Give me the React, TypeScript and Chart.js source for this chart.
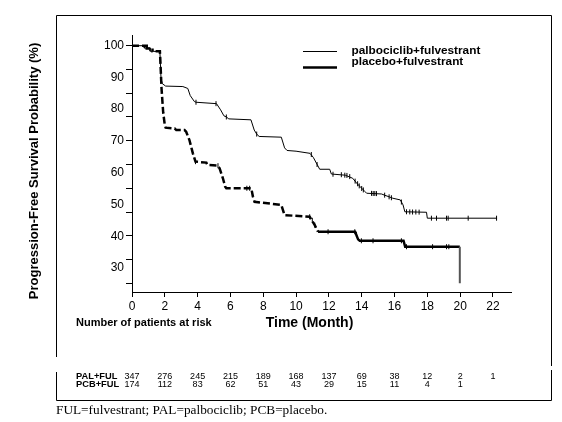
import React, { useEffect, useRef } from 'react';
import { Chart, registerables } from 'chart.js';

Chart.register(...registerables);

// ---- axis ticks ----
const xTickValues = [0, 2, 4, 6, 8, 10, 12, 14, 16, 18, 20, 22];
const yTickValues = [0, 10, 20, 30, 40, 50, 60, 70, 80, 90, 100];
const yLabelValues = [30, 40, 50, 60, 70, 80, 90, 100];

// ---- palbociclib + fulvestrant (KM curve vertices) ----
const palTime = [0, 0.75, 0.75, 1.1, 1.1, 1.7, 1.77, 1.85, 2.05, 3.1, 3.4, 3.55, 3.8, 3.9, 5.15, 5.4, 5.6, 5.75, 5.9, 7.25, 7.45, 7.6, 7.75, 9.1, 9.3, 9.45, 10.0, 10.85, 11.05, 11.3, 11.44, 12.05, 12.15, 13.0, 13.45, 13.7, 13.9, 14.2, 14.3, 15.2, 15.9, 16.35, 16.52, 16.63, 17.95, 18.0, 22.25];
const palSurv = [100, 100, 99, 99, 97.7, 97.5, 86, 84, 83, 82.8, 82.0, 79, 76.5, 76.2, 75.6, 73, 70.5, 70, 69.2, 68.8, 64.5, 62.8, 61.8, 61.5, 57, 55.9, 55.6, 54.7, 53, 49.8, 48, 48, 46, 45.5, 44.2, 42.1, 40.7, 38.6, 37.9, 37.6, 35.8, 35.1, 33.0, 30.1, 29.9, 27.4, 27.4];
const palCensorTime = [3.9, 5.12, 5.75, 7.6, 10.93, 11.28, 12.25, 12.76, 12.97, 13.1, 13.27, 13.6, 13.75, 13.85, 14.0, 14.1, 14.6, 14.7, 14.8, 14.9, 15.4, 15.67, 15.81, 16.42, 16.73, 16.93, 17.1, 17.3, 17.5, 18.25, 18.56, 19.17, 19.27, 20.49, 22.22];
const palCensorSurv = [76.2, 75.6, 70, 62.8, 54.2, 50, 45.9, 45.7, 45.5, 45.4, 44.9, 43, 41.9, 41, 39.9, 39.3, 37.85, 37.8, 37.8, 37.75, 37.1, 36.4, 36.0, 34.2, 30.1, 30.05, 30.0, 30.0, 29.95, 27.4, 27.4, 27.4, 27.4, 27.4, 27.4];

// ---- placebo + fulvestrant (KM curve vertices) ----
const pcbTime = [0, 0.9, 0.9, 1.25, 1.25, 1.7, 1.72, 1.8, 1.9, 2.0, 2.05, 2.6, 2.7, 3.2, 3.3, 3.5, 3.71, 3.87, 4.53, 4.6, 5.2, 5.34, 5.54, 5.68, 5.75, 7.27, 7.37, 7.47, 9.1, 9.3, 10.83, 11.14, 11.34, 13.6, 13.78, 13.88, 16.55, 16.65, 19.98, 19.98];
const pcbSurv = [100, 100, 98.8, 98.8, 97.7, 97.7, 95, 82, 72, 66.5, 65.5, 65.2, 64.5, 64.5, 63.8, 60.3, 54.7, 51.2, 50.8, 49.8, 49.6, 48.4, 44.2, 40.7, 40.0, 40.0, 36.5, 34.3, 33.0, 28.7, 28.0, 24.5, 21.7, 21.7, 18.5, 17.9, 17.9, 15.4, 15.4, 0];
const pcbCensorTime = [3.87, 5.24, 7.0, 7.17, 10.83, 10.99, 11.14, 11.95, 13.58, 13.68, 13.98, 14.69, 16.42, 16.73, 18.32, 19.17, 19.31];
const pcbCensorSurv = [51.2, 49.5, 40, 40, 28.0, 26.5, 24.5, 21.7, 21.7, 20.5, 17.9, 17.9, 17.9, 15.4, 15.4, 15.4, 15.4];

// ---- numbers at risk ----
const riskTimes = [0, 2, 4, 6, 8, 10, 12, 14, 16, 18, 20, 22];
const palAtRisk = [347, 276, 245, 215, 189, 168, 137, 69, 38, 12, 2, 1];
const pcbAtRisk = [174, 112, 83, 62, 51, 43, 29, 15, 11, 4, 1, null];

const seriesLabels = ['palbociclib+fulvestrant', 'placebo+fulvestrant'];
const riskLabels = ['PAL+FUL', 'PCB+FUL'];
const footnote = 'FUL=fulvestrant; PAL=palbociclib; PCB=placebo.';
const yTitle = 'Progression-Free Survival Probability (%)';
const xTitle = 'Time (Month)';
const riskTitle = 'Number of patients at risk';

const SANS = '"Liberation Sans", Arial, Helvetica, sans-serif';
const SERIF = '"Liberation Serif", "Times New Roman", serif';

const toPts = (xs: number[], ys: number[]) => xs.map((x, i) => ({ x, y: ys[i] }));

const decor = {
  id: 'decor',
  afterDraw(chart: any) {
    const ctx: CanvasRenderingContext2D = chart.ctx;
    const xs = chart.scales.x;
    ctx.save();
    ctx.fillStyle = '#000';
    ctx.strokeStyle = '#000';
    ctx.lineWidth = 1;

    // outer frame
    ctx.beginPath();
    ctx.moveTo(56.5, 15.5);
    ctx.lineTo(551.5, 15.5);
    ctx.lineTo(551.5, 366);
    ctx.moveTo(551.5, 370);
    ctx.lineTo(551.5, 400.5);
    ctx.lineTo(56.5, 400.5);
    ctx.lineTo(56.5, 372);
    ctx.moveTo(56.5, 357);
    ctx.lineTo(56.5, 15.5);
    ctx.stroke();

    // y title
    ctx.save();
    ctx.translate(34, 171);
    ctx.rotate(-Math.PI / 2);
    ctx.font = `bold 13px ${SANS}`;
    ctx.textAlign = 'center';
    ctx.textBaseline = 'middle';
    ctx.fillText(yTitle, 0, 0);
    ctx.restore();

    // x title
    ctx.font = `bold 14px ${SANS}`;
    ctx.textAlign = 'center';
    ctx.textBaseline = 'alphabetic';
    ctx.fillText(xTitle, 309.5, 327);

    // legend
    ctx.beginPath();
    ctx.lineWidth = 1;
    ctx.moveTo(303, 51.5);
    ctx.lineTo(337, 51.5);
    ctx.stroke();
    ctx.beginPath();
    ctx.lineWidth = 2.5;
    ctx.moveTo(303, 67.5);
    ctx.lineTo(337, 67.5);
    ctx.stroke();
    ctx.font = `bold 11.8px ${SANS}`;
    ctx.textAlign = 'left';
    ctx.fillText(seriesLabels[0], 351.5, 53.5);
    ctx.fillText(seriesLabels[1], 351.5, 65);

    // at risk table
    ctx.font = `bold 11px ${SANS}`;
    ctx.fillText(riskTitle, 76, 326);
    ctx.font = `bold 9.3px ${SANS}`;
    ctx.fillText(riskLabels[0], 76, 378.5);
    ctx.fillText(riskLabels[1], 76, 386.5);
    ctx.font = `9px ${SANS}`;
    ctx.textAlign = 'center';
    riskTimes.forEach((t, i) => {
      const px = xs.getPixelForValue(t);
      if (palAtRisk[i] != null) ctx.fillText(String(palAtRisk[i]), px, 378.5);
      if (pcbAtRisk[i] != null) ctx.fillText(String(pcbAtRisk[i]), px, 386.5);
    });

    // footnote
    ctx.font = `13.3px ${SERIF}`;
    ctx.textAlign = 'left';
    ctx.fillText(footnote, 56, 413.5);
    ctx.restore();
  },
};

export default function App() {
  const ref = useRef<HTMLCanvasElement>(null);
  useEffect(() => {
    if (!ref.current) return;
    Chart.defaults.font.family = SANS;
    Chart.defaults.color = '#000';
    const chart = new Chart(ref.current, {
      type: 'line',
      data: {
        datasets: [
          {
            label: seriesLabels[0],
            data: toPts(palTime, palSurv),
            borderColor: '#000',
            borderWidth: 1,
            pointRadius: 0,
            tension: 0,
            fill: false,
          },
          {
            label: seriesLabels[1],
            data: toPts(pcbTime, pcbSurv),
            borderColor: '#000',
            borderWidth: 2.5,
            borderDash: [],
            pointRadius: 0,
            tension: 0,
            fill: false,
            segment: {
              borderDash: (c: any) => (c.p0.parsed.x < 11.3 ? [7, 3] : undefined),
              borderColor: (c: any) => (c.p0.parsed.x > 19.9 ? '#555' : undefined),
              borderWidth: (c: any) => (c.p0.parsed.x > 19.9 ? 2 : undefined),
            },
          },
          {
            label: 'censored PAL',
            data: toPts(palCensorTime, palCensorSurv),
            showLine: false,
            pointStyle: 'line',
            pointRotation: 90,
            pointRadius: 2.5,
            pointBorderWidth: 1,
            pointBorderColor: '#000',
            borderColor: '#000',
          },
          {
            label: 'censored PCB',
            data: toPts(pcbCensorTime, pcbCensorSurv),
            showLine: false,
            pointStyle: 'line',
            pointRotation: 90,
            pointRadius: 2.5,
            pointBorderWidth: 1,
            pointBorderColor: '#000',
            borderColor: '#000',
          },
        ],
      },
      options: {
        responsive: false,
        animation: false,
        devicePixelRatio: 1,
        layout: { padding: { left: 66, top: 35, right: 51, bottom: 100 } },
        plugins: { legend: { display: false }, tooltip: { enabled: false } },
        scales: {
          x: {
            type: 'linear',
            min: 0,
            max: 23.1,
            afterBuildTicks: (s: any) => {
              s.ticks = xTickValues.map((v) => ({ value: v }));
            },
            afterFit: (s: any) => {
              s.height = 30;
            },
            grid: { drawOnChartArea: false, drawTicks: true, tickLength: 5, color: '#000' },
            border: { color: '#000', width: 1 },
            ticks: { color: '#000', font: { size: 12 }, padding: 2.5, maxRotation: 0, autoSkip: false },
          },
          y: {
            type: 'linear',
            position: 'left',
            weight: 0,
            min: -3.66,
            max: 104.5,
            afterBuildTicks: (s: any) => {
              s.ticks = yTickValues.map((v) => ({ value: v }));
            },
            afterFit: (s: any) => {
              s.width = 6;
            },
            grid: { drawOnChartArea: false, drawTicks: true, tickLength: 6, color: '#000' },
            border: { color: '#000', width: 1 },
            ticks: { display: false },
          },
          yl: {
            type: 'linear',
            position: 'left',
            weight: 1,
            min: 22.5,
            max: 103.32,
            afterBuildTicks: (s: any) => {
              s.ticks = yLabelValues.map((v) => ({ value: v }));
            },
            afterFit: (s: any) => {
              s.width = 60;
            },
            grid: { display: false, drawTicks: false },
            border: { display: false },
            ticks: { color: '#000', font: { size: 12 }, padding: 2 },
          },
        },
      },
      plugins: [decor],
    } as any);
    return () => chart.destroy();
  }, []);
  return (
    <div style={{ position: 'fixed', left: 0, top: 0, width: 562, height: 422, background: '#fff' }}>
      <canvas ref={ref} width={562} height={422} style={{ display: 'block', width: 562, height: 422 }} />
    </div>
  );
}
